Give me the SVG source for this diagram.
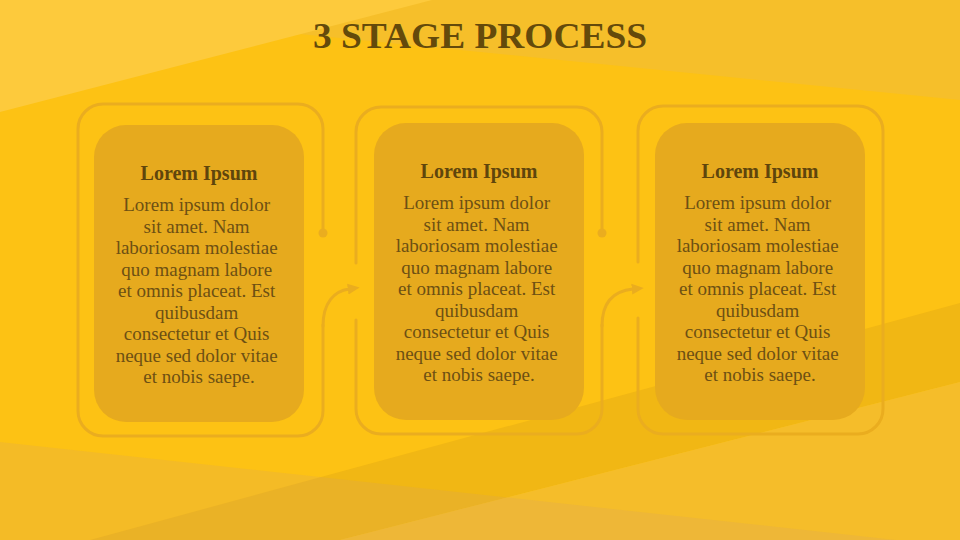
<svg xmlns="http://www.w3.org/2000/svg" width="960" height="540" viewBox="0 0 960 540">
  <defs>
    <style>
      .frame { fill: none; stroke: #eaad1f; stroke-width: 3; stroke-linecap: round; }
      .card { fill: #e6aa1e; }
      .dot { fill: #eaad1f; }
      .title { font-family: "Liberation Serif", "DejaVu Serif", serif; font-weight: bold; font-size: 36px; fill: #644a0b; }
      .head { font-family: "Liberation Serif", "DejaVu Serif", serif; font-weight: bold; font-size: 20px; fill: #5f450c; text-anchor: middle; }
      .body { font-family: "Liberation Serif", "DejaVu Serif", serif; font-size: 19px; fill: #6d5013; text-anchor: middle; }
    </style>
    <marker id="arrow" markerUnits="userSpaceOnUse" markerWidth="12" markerHeight="12" viewBox="0 0 10 10" refX="1" refY="5" orient="auto">
      <path d="M0,0.5 L10,5 L0,9.5 z" fill="#eaad1f"/>
    </marker>
  </defs>

  <g id="background">
    <rect x="0" y="0" width="960" height="540" fill="#fdc214"/>
    <polygon points="0,0 960,0 960,100 0,4" fill="#f6bf2a"/>
    <polygon points="0,0 432,0 0,112" fill="#fdca3c"/>
    <polygon points="90,540 960,303 960,382 340,540" fill="#f1b714"/>
    <polygon points="340,540 960,382 960,540" fill="#f5bd2a"/>
    <polygon points="0,442 960,547 960,540 0,540" fill="#d2a06e" fill-opacity="0.2"/>
  </g>

  <text id="title" class="title" x="480" y="48" text-anchor="middle" textLength="334" lengthAdjust="spacingAndGlyphs">3 STAGE PROCESS</text>

  <g id="connectors">
    <!-- frame 1 -->
    <path class="frame" d="M323,233 L323,129 A25,25 0 0 0 298,104 L103,104 A25,25 0 0 0 78,129 L78,411 A25,25 0 0 0 103,436 L298,436 A25,25 0 0 0 323,411 L323,325"/>
    <circle class="dot" cx="323" cy="233" r="4.5"/>
    <path class="frame" d="M323,326 C323,303 334,291 349,289" marker-end="url(#arrow)"/>
    <!-- frame 2 -->
    <path class="frame" d="M356,263 L356,132 A25,25 0 0 1 381,107 L577,107 A25,25 0 0 1 602,132 L602,233"/>
    <circle class="dot" cx="602" cy="233" r="4.5"/>
    <path class="frame" d="M356,320 L356,409 A25,25 0 0 0 381,434 L577,434 A25,25 0 0 0 602,409 L602,325"/>
    <path class="frame" d="M602,326 C602,303 613,291 633,289" marker-end="url(#arrow)"/>
    <!-- frame 3 -->
    <path class="frame" d="M638,262 L638,131 A25,25 0 0 1 663,106 L858,106 A25,25 0 0 1 883,131 L883,409 A25,25 0 0 1 858,434 L663,434 A25,25 0 0 1 638,409 L638,318"/>
  </g>

  <g id="stage1">
    <rect class="card" x="94" y="125" width="210" height="297" rx="32"/>
    <text class="head" x="199" y="180">Lorem Ipsum</text>
    <text class="body" x="199" y="211">
      <tspan x="199" y="211">Lorem ipsum dolor</tspan>
      <tspan x="199" y="232.5">sit amet. Nam</tspan>
      <tspan x="199" y="254">laboriosam molestiae</tspan>
      <tspan x="199" y="275.5">quo magnam labore</tspan>
      <tspan x="199" y="297">et omnis placeat. Est</tspan>
      <tspan x="199" y="318.5">quibusdam</tspan>
      <tspan x="199" y="340">consectetur et Quis</tspan>
      <tspan x="199" y="361.5">neque sed dolor vitae</tspan>
      <tspan x="199" y="383">et nobis saepe.</tspan>
    </text>
  </g>

  <g id="stage2">
    <rect class="card" x="374" y="123" width="210" height="297" rx="32"/>
    <text class="head" x="479" y="178">Lorem Ipsum</text>
    <text class="body" x="479" y="209">
      <tspan x="479" y="209">Lorem ipsum dolor</tspan>
      <tspan x="479" y="230.5">sit amet. Nam</tspan>
      <tspan x="479" y="252">laboriosam molestiae</tspan>
      <tspan x="479" y="273.5">quo magnam labore</tspan>
      <tspan x="479" y="295">et omnis placeat. Est</tspan>
      <tspan x="479" y="316.5">quibusdam</tspan>
      <tspan x="479" y="338">consectetur et Quis</tspan>
      <tspan x="479" y="359.5">neque sed dolor vitae</tspan>
      <tspan x="479" y="381">et nobis saepe.</tspan>
    </text>
  </g>

  <g id="stage3">
    <rect class="card" x="655" y="123" width="210" height="297" rx="32"/>
    <text class="head" x="760" y="178">Lorem Ipsum</text>
    <text class="body" x="760" y="209">
      <tspan x="760" y="209">Lorem ipsum dolor</tspan>
      <tspan x="760" y="230.5">sit amet. Nam</tspan>
      <tspan x="760" y="252">laboriosam molestiae</tspan>
      <tspan x="760" y="273.5">quo magnam labore</tspan>
      <tspan x="760" y="295">et omnis placeat. Est</tspan>
      <tspan x="760" y="316.5">quibusdam</tspan>
      <tspan x="760" y="338">consectetur et Quis</tspan>
      <tspan x="760" y="359.5">neque sed dolor vitae</tspan>
      <tspan x="760" y="381">et nobis saepe.</tspan>
    </text>
  </g>
</svg>
